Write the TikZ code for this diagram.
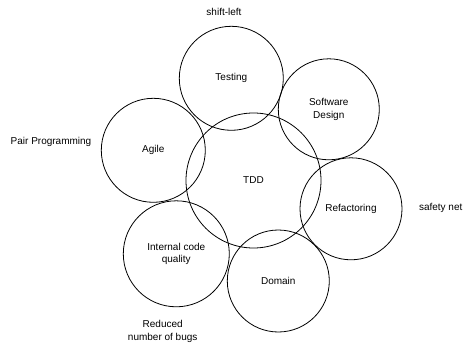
\documentclass[tikz,border=0pt]{standalone}
\usepackage{fontspec}
\setmainfont{Liberation Sans}
\usetikzlibrary{positioning}

\begin{document}
\begin{tikzpicture}[
    x=1pt, y=-1pt,
    font=\fontsize{10}{12.7}\selectfont,
    topic/.style={draw, circle, line width=0.8pt, inner sep=0pt, align=center},
    note/.style={align=center, inner sep=0pt}
  ]
\useasboundingbox (0,0) rectangle (474,348);

% =================== central circle ===================
\node[topic, minimum size=135pt] (tdd) at (253.5,180.5) {TDD};

% =================== surrounding circles ===================
\node[topic, minimum size=104pt] (testing) at (231.3,78.3) {Testing};
\node[topic, minimum size=101pt] (design) at (328.8,109.3) {Software\\Design};
\node[topic, minimum size=104pt] (agile) at (153.3,150.3) {Agile};
\node[topic, minimum size=102pt] (refactoring) at (351,208.8) {Refactoring};
\node[topic, minimum size=106pt] (quality) at (176.3,253.8) {Internal code\\quality};
\node[topic, minimum size=102pt] (domain) at (278.3,281) {Domain};

% =================== outer notes ===================
\node[note] (shiftleft) at (224,12.3) {shift-left};
\node[note] (pair) at (51,141.7) {Pair Programming};
\node[note] (safety) at (440.7,208.3) {safety net};
\node[note] (bugs) at (162.7,331.3) {Reduced\\number of bugs};

\end{tikzpicture}
\end{document}
